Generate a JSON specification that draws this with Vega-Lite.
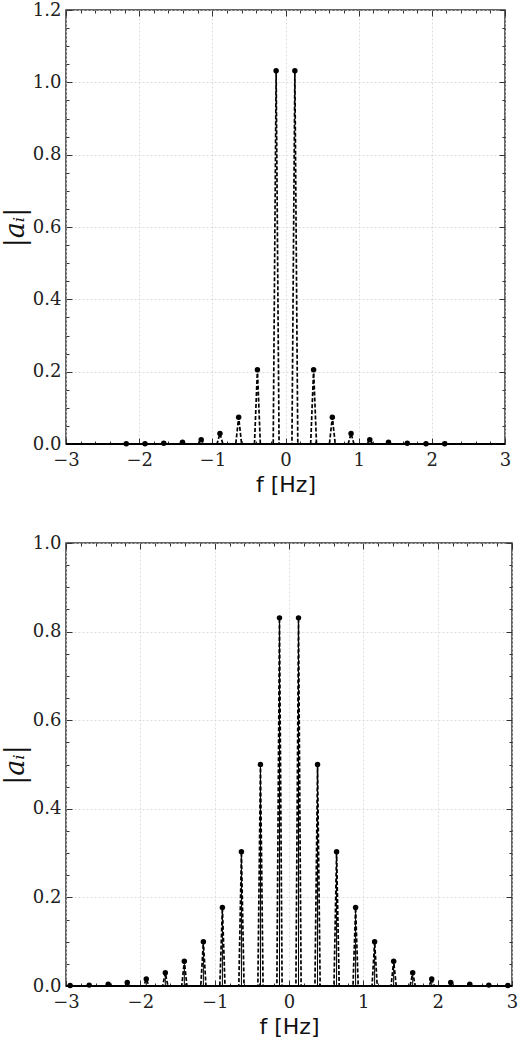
{
  "$schema": "https://vega.github.io/schema/vega-lite/v6.json",
  "padding": {"left": 0, "top": 0, "right": 3, "bottom": 3},
  "background": "white",
  "datasets": {
    "topPeak": [
      {"f": -2.176, "a": 0.0005}, {"f": -1.92, "a": 0.001}, {"f": -1.664, "a": 0.002}, {"f": -1.408, "a": 0.005},
      {"f": -1.152, "a": 0.012}, {"f": -0.896, "a": 0.029}, {"f": -0.64, "a": 0.074}, {"f": -0.384, "a": 0.205},
      {"f": -0.128, "a": 1.032}, {"f": 0.128, "a": 1.032}, {"f": 0.384, "a": 0.205}, {"f": 0.64, "a": 0.074},
      {"f": 0.896, "a": 0.029}, {"f": 1.152, "a": 0.012}, {"f": 1.408, "a": 0.005}, {"f": 1.664, "a": 0.002},
      {"f": 1.92, "a": 0.001}, {"f": 2.176, "a": 0.0005}
    ],
    "topTent": [
      {"f": -3.0, "a": 0},
      {"f": -1.448, "a": 0}, {"f": -1.408, "a": 0.005}, {"f": -1.368, "a": 0},
      {"f": -1.192, "a": 0}, {"f": -1.152, "a": 0.012}, {"f": -1.112, "a": 0},
      {"f": -0.936, "a": 0}, {"f": -0.896, "a": 0.029}, {"f": -0.856, "a": 0},
      {"f": -0.68, "a": 0}, {"f": -0.64, "a": 0.074}, {"f": -0.6, "a": 0},
      {"f": -0.424, "a": 0}, {"f": -0.384, "a": 0.205}, {"f": -0.344, "a": 0},
      {"f": -0.168, "a": 0}, {"f": -0.128, "a": 1.032}, {"f": -0.088, "a": 0},
      {"f": 0.088, "a": 0}, {"f": 0.128, "a": 1.032}, {"f": 0.168, "a": 0},
      {"f": 0.344, "a": 0}, {"f": 0.384, "a": 0.205}, {"f": 0.424, "a": 0},
      {"f": 0.6, "a": 0}, {"f": 0.64, "a": 0.074}, {"f": 0.68, "a": 0},
      {"f": 0.856, "a": 0}, {"f": 0.896, "a": 0.029}, {"f": 0.936, "a": 0},
      {"f": 1.112, "a": 0}, {"f": 1.152, "a": 0.012}, {"f": 1.192, "a": 0},
      {"f": 1.368, "a": 0}, {"f": 1.408, "a": 0.005}, {"f": 1.448, "a": 0},
      {"f": 3.0, "a": 0}
    ],
    "botPeak": [
      {"f": -2.944, "a": 0.001}, {"f": -2.688, "a": 0.002}, {"f": -2.432, "a": 0.004}, {"f": -2.176, "a": 0.008},
      {"f": -1.92, "a": 0.016}, {"f": -1.664, "a": 0.03}, {"f": -1.408, "a": 0.056}, {"f": -1.152, "a": 0.1},
      {"f": -0.896, "a": 0.177}, {"f": -0.64, "a": 0.303}, {"f": -0.384, "a": 0.5}, {"f": -0.128, "a": 0.831},
      {"f": 0.128, "a": 0.831}, {"f": 0.384, "a": 0.5}, {"f": 0.64, "a": 0.303}, {"f": 0.896, "a": 0.177},
      {"f": 1.152, "a": 0.1}, {"f": 1.408, "a": 0.056}, {"f": 1.664, "a": 0.03}, {"f": 1.92, "a": 0.016},
      {"f": 2.176, "a": 0.008}, {"f": 2.432, "a": 0.004}, {"f": 2.688, "a": 0.002}, {"f": 2.944, "a": 0.001}
    ],
    "botTent": [
      {"f": -3.0, "a": 0},
      {"f": -2.211, "a": 0}, {"f": -2.176, "a": 0.008}, {"f": -2.141, "a": 0},
      {"f": -1.955, "a": 0}, {"f": -1.92, "a": 0.016}, {"f": -1.885, "a": 0},
      {"f": -1.699, "a": 0}, {"f": -1.664, "a": 0.03}, {"f": -1.629, "a": 0},
      {"f": -1.443, "a": 0}, {"f": -1.408, "a": 0.056}, {"f": -1.373, "a": 0},
      {"f": -1.187, "a": 0}, {"f": -1.152, "a": 0.1}, {"f": -1.117, "a": 0},
      {"f": -0.931, "a": 0}, {"f": -0.896, "a": 0.177}, {"f": -0.861, "a": 0},
      {"f": -0.675, "a": 0}, {"f": -0.64, "a": 0.303}, {"f": -0.605, "a": 0},
      {"f": -0.419, "a": 0}, {"f": -0.384, "a": 0.5}, {"f": -0.349, "a": 0},
      {"f": -0.163, "a": 0}, {"f": -0.128, "a": 0.831}, {"f": -0.093, "a": 0},
      {"f": 0.093, "a": 0}, {"f": 0.128, "a": 0.831}, {"f": 0.163, "a": 0},
      {"f": 0.349, "a": 0}, {"f": 0.384, "a": 0.5}, {"f": 0.419, "a": 0},
      {"f": 0.605, "a": 0}, {"f": 0.64, "a": 0.303}, {"f": 0.675, "a": 0},
      {"f": 0.861, "a": 0}, {"f": 0.896, "a": 0.177}, {"f": 0.931, "a": 0},
      {"f": 1.117, "a": 0}, {"f": 1.152, "a": 0.1}, {"f": 1.187, "a": 0},
      {"f": 1.373, "a": 0}, {"f": 1.408, "a": 0.056}, {"f": 1.443, "a": 0},
      {"f": 1.629, "a": 0}, {"f": 1.664, "a": 0.03}, {"f": 1.699, "a": 0},
      {"f": 1.885, "a": 0}, {"f": 1.92, "a": 0.016}, {"f": 1.955, "a": 0},
      {"f": 2.141, "a": 0}, {"f": 2.176, "a": 0.008}, {"f": 2.211, "a": 0},
      {"f": 3.0, "a": 0}
    ]
  },
  "config": {
    "view": {"stroke": "#333333", "strokeWidth": 1.5},
    "concat": {"spacing": 37},
    "axis": {
      "domain": false,
      "labelFont": "DejaVu Serif",
      "labelFontSize": 18,
      "labelColor": "#222222",
      "labelFlush": false,
      "labelOverlap": false,
      "labelBound": false,
      "tickColor": "#333333",
      "gridColor": "#d4d4d4",
      "gridDash": [2, 2],
      "gridWidth": 0.8
    }
  },
  "vconcat": [
    {
      "width": 439,
      "height": 434,
      "layer": [
        {
          "data": {"name": "topTent"},
          "mark": {"type": "line", "color": "black", "strokeWidth": 1.7, "strokeDash": [4, 2]},
          "encoding": {
            "x": {"field": "f", "type": "quantitative", "scale": {"domain": [-3, 3], "nice": false, "zero": false},
              "axis": {"orient": "bottom", "values": [-3, -2, -1, 0, 1, 2, 3], "format": "d", "ticks": false, "grid": true, "labelPadding": 7,
                "title": "f [Hz]", "titleFont": "DejaVu Sans", "titleFontSize": 22, "titleFontWeight": "normal", "titleColor": "#111111", "titlePadding": 5}},
            "y": {"field": "a", "type": "quantitative", "scale": {"domain": [0, 1.2], "nice": false},
              "axis": {"orient": "left", "values": [0, 0.2, 0.4, 0.6, 0.8, 1.0, 1.2], "format": ".1f", "ticks": false, "grid": true, "labelPadding": 5,
                "title": "|aᵢ|", "titleFont": "DejaVu Serif", "titleFontStyle": "italic", "titleFontSize": 27, "titleFontWeight": "normal", "titleColor": "#111111", "titlePadding": 3}}
          }
        },
        {
          "data": {"name": "topPeak"},
          "mark": {"type": "point", "opacity": 0},
          "encoding": {
            "x": {"field": "f", "type": "quantitative", "axis": {"orient": "bottom", "values": [-3, -2, -1, 0, 1, 2, 3], "labels": false, "grid": false, "tickSize": -6, "title": null}},
            "y": {"field": "a", "type": "quantitative", "axis": {"orient": "left", "values": [0, 0.2, 0.4, 0.6, 0.8, 1.0, 1.2], "labels": false, "grid": false, "tickSize": -6, "title": null}}
          }
        },
        {
          "data": {"name": "topPeak"},
          "mark": {"type": "point", "opacity": 0},
          "encoding": {
            "x": {"field": "f", "type": "quantitative", "axis": {"orient": "top", "values": [-3, -2, -1, 0, 1, 2, 3], "labels": false, "grid": false, "tickSize": -6, "title": null}},
            "y": {"field": "a", "type": "quantitative", "axis": {"orient": "right", "values": [0, 0.2, 0.4, 0.6, 0.8, 1.0, 1.2], "labels": false, "grid": false, "tickSize": -6, "title": null}}
          }
        },
        {
          "data": {"name": "topPeak"},
          "mark": {"type": "point", "opacity": 0},
          "encoding": {
            "x": {"field": "f", "type": "quantitative", "axis": {"orient": "bottom", "values": [-2.8, -2.6, -2.4, -2.2, -1.8, -1.6, -1.4, -1.2, -0.8, -0.6, -0.4, -0.2, 0.2, 0.4, 0.6, 0.8, 1.2, 1.4, 1.6, 1.8, 2.2, 2.4, 2.6, 2.8], "labels": false, "grid": false, "tickSize": -3, "title": null}},
            "y": {"field": "a", "type": "quantitative", "axis": {"orient": "left", "values": [0.05, 0.1, 0.15, 0.25, 0.3, 0.35, 0.45, 0.5, 0.55, 0.65, 0.7, 0.75, 0.85, 0.9, 0.95, 1.05, 1.1, 1.15], "labels": false, "grid": false, "tickSize": -3, "title": null}}
          }
        },
        {
          "data": {"name": "topPeak"},
          "mark": {"type": "point", "opacity": 0},
          "encoding": {
            "x": {"field": "f", "type": "quantitative", "axis": {"orient": "top", "values": [-2.8, -2.6, -2.4, -2.2, -1.8, -1.6, -1.4, -1.2, -0.8, -0.6, -0.4, -0.2, 0.2, 0.4, 0.6, 0.8, 1.2, 1.4, 1.6, 1.8, 2.2, 2.4, 2.6, 2.8], "labels": false, "grid": false, "tickSize": -3, "title": null}},
            "y": {"field": "a", "type": "quantitative", "axis": {"orient": "right", "values": [0.05, 0.1, 0.15, 0.25, 0.3, 0.35, 0.45, 0.5, 0.55, 0.65, 0.7, 0.75, 0.85, 0.9, 0.95, 1.05, 1.1, 1.15], "labels": false, "grid": false, "tickSize": -3, "title": null}}
          }
        },
        {
          "data": {"name": "topPeak"},
          "mark": {"type": "rule", "color": "black", "strokeWidth": 2.2},
          "encoding": {"y": {"datum": 0, "type": "quantitative", "axis": null}}
        },
        {
          "data": {"name": "topPeak"},
          "mark": {"type": "point", "filled": true, "color": "black", "size": 30, "opacity": 1},
          "encoding": {
            "x": {"field": "f", "type": "quantitative", "axis": null},
            "y": {"field": "a", "type": "quantitative", "axis": null}
          }
        }
      ],
      "resolve": {"axis": {"x": "independent", "y": "independent"}}
    },
    {
      "width": 446,
      "height": 443,
      "layer": [
        {
          "data": {"name": "botTent"},
          "mark": {"type": "line", "color": "black", "strokeWidth": 1.7, "strokeDash": [4, 2]},
          "encoding": {
            "x": {"field": "f", "type": "quantitative", "scale": {"domain": [-3, 3], "nice": false, "zero": false},
              "axis": {"orient": "bottom", "values": [-3, -2, -1, 0, 1, 2, 3], "format": "d", "ticks": false, "grid": true, "labelPadding": 7,
                "title": "f [Hz]", "titleFont": "DejaVu Sans", "titleFontSize": 22, "titleFontWeight": "normal", "titleColor": "#111111", "titlePadding": 5}},
            "y": {"field": "a", "type": "quantitative", "scale": {"domain": [0, 1.0], "nice": false},
              "axis": {"orient": "left", "values": [0, 0.2, 0.4, 0.6, 0.8, 1.0], "format": ".1f", "ticks": false, "grid": true, "labelPadding": 5,
                "title": "|aᵢ|", "titleFont": "DejaVu Serif", "titleFontStyle": "italic", "titleFontSize": 27, "titleFontWeight": "normal", "titleColor": "#111111", "titlePadding": 3}}
          }
        },
        {
          "data": {"name": "botPeak"},
          "mark": {"type": "point", "opacity": 0},
          "encoding": {
            "x": {"field": "f", "type": "quantitative", "axis": {"orient": "bottom", "values": [-3, -2, -1, 0, 1, 2, 3], "labels": false, "grid": false, "tickSize": -6, "title": null}},
            "y": {"field": "a", "type": "quantitative", "axis": {"orient": "left", "values": [0, 0.2, 0.4, 0.6, 0.8, 1.0], "labels": false, "grid": false, "tickSize": -6, "title": null}}
          }
        },
        {
          "data": {"name": "botPeak"},
          "mark": {"type": "point", "opacity": 0},
          "encoding": {
            "x": {"field": "f", "type": "quantitative", "axis": {"orient": "top", "values": [-3, -2, -1, 0, 1, 2, 3], "labels": false, "grid": false, "tickSize": -6, "title": null}},
            "y": {"field": "a", "type": "quantitative", "axis": {"orient": "right", "values": [0, 0.2, 0.4, 0.6, 0.8, 1.0], "labels": false, "grid": false, "tickSize": -6, "title": null}}
          }
        },
        {
          "data": {"name": "botPeak"},
          "mark": {"type": "point", "opacity": 0},
          "encoding": {
            "x": {"field": "f", "type": "quantitative", "axis": {"orient": "bottom", "values": [-2.8, -2.6, -2.4, -2.2, -1.8, -1.6, -1.4, -1.2, -0.8, -0.6, -0.4, -0.2, 0.2, 0.4, 0.6, 0.8, 1.2, 1.4, 1.6, 1.8, 2.2, 2.4, 2.6, 2.8], "labels": false, "grid": false, "tickSize": -3, "title": null}},
            "y": {"field": "a", "type": "quantitative", "axis": {"orient": "left", "values": [0.05, 0.1, 0.15, 0.25, 0.3, 0.35, 0.45, 0.5, 0.55, 0.65, 0.7, 0.75, 0.85, 0.9, 0.95], "labels": false, "grid": false, "tickSize": -3, "title": null}}
          }
        },
        {
          "data": {"name": "botPeak"},
          "mark": {"type": "point", "opacity": 0},
          "encoding": {
            "x": {"field": "f", "type": "quantitative", "axis": {"orient": "top", "values": [-2.8, -2.6, -2.4, -2.2, -1.8, -1.6, -1.4, -1.2, -0.8, -0.6, -0.4, -0.2, 0.2, 0.4, 0.6, 0.8, 1.2, 1.4, 1.6, 1.8, 2.2, 2.4, 2.6, 2.8], "labels": false, "grid": false, "tickSize": -3, "title": null}},
            "y": {"field": "a", "type": "quantitative", "axis": {"orient": "right", "values": [0.05, 0.1, 0.15, 0.25, 0.3, 0.35, 0.45, 0.5, 0.55, 0.65, 0.7, 0.75, 0.85, 0.9, 0.95], "labels": false, "grid": false, "tickSize": -3, "title": null}}
          }
        },
        {
          "data": {"name": "botPeak"},
          "mark": {"type": "rule", "color": "black", "strokeWidth": 1},
          "encoding": {
            "x": {"field": "f", "type": "quantitative", "axis": null},
            "y": {"field": "a", "type": "quantitative", "axis": null},
            "y2": {"datum": 0}
          }
        },
        {
          "data": {"name": "botPeak"},
          "mark": {"type": "rule", "color": "black", "strokeWidth": 2.2},
          "encoding": {"y": {"datum": 0, "type": "quantitative", "axis": null}}
        },
        {
          "data": {"name": "botPeak"},
          "mark": {"type": "point", "filled": true, "color": "black", "size": 30, "opacity": 1},
          "encoding": {
            "x": {"field": "f", "type": "quantitative", "axis": null},
            "y": {"field": "a", "type": "quantitative", "axis": null}
          }
        }
      ],
      "resolve": {"axis": {"x": "independent", "y": "independent"}}
    }
  ]
}
